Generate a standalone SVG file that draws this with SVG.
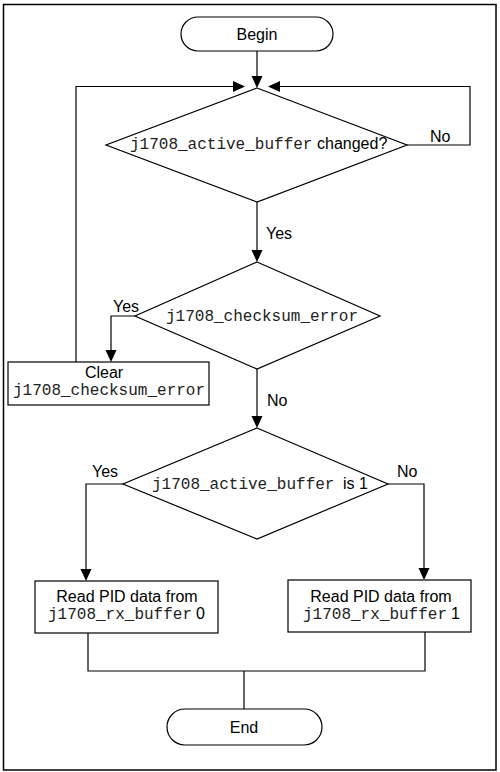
<svg xmlns="http://www.w3.org/2000/svg" width="500" height="772" viewBox="0 0 500 772">
<style>
.s{fill:#fff;stroke:#000;stroke-width:1.2}
.c{fill:none;stroke:#000;stroke-width:1.2}
.t{font-family:"Liberation Sans",Arial,sans-serif;font-size:16px;fill:#000}
.m{font-family:"Liberation Mono","Courier New",monospace;font-size:16px;fill:#222}
.a{fill:#000;stroke:none}
</style>
<rect x="3.5" y="4.5" width="492.5" height="765.5" fill="#fff" stroke="#000" stroke-width="1.5"/>
<g id="connectors">
<path class="c" d="M257,51 V78"/>
<polygon class="a" points="251.5,76 262.5,76 257,88"/>
<path class="c" d="M76,362 V86.5 H235"/>
<polygon class="a" points="233,81 233,92 245,86.5"/>
<path class="c" d="M407,145 H470 V86.5 H278"/>
<polygon class="a" points="280,81 280,92 268,86.5"/>
<path class="c" d="M257,202 V252"/>
<polygon class="a" points="251.5,250 262.5,250 257,262"/>
<path class="c" d="M135,316 H111 V352"/>
<polygon class="a" points="105.5,350 116.5,350 111,362"/>
<path class="c" d="M257,369 V418"/>
<polygon class="a" points="251.5,416 262.5,416 257,428"/>
<path class="c" d="M123,484 H86 V571"/>
<polygon class="a" points="80.5,569 91.5,569 86,581"/>
<path class="c" d="M388,484 H424 V570"/>
<polygon class="a" points="418.5,568 429.5,568 424,580"/>
<path class="c" d="M88,633 V671 H425 V632"/>
<path class="c" d="M244,671 V709"/>
</g>
<g id="labels">
<text class="t" x="430" y="142">No</text>
<text class="t" x="266" y="239">Yes</text>
<text class="t" x="113" y="312">Yes</text>
<text class="t" x="267" y="406">No</text>
<text class="t" x="92" y="477">Yes</text>
<text class="t" x="397" y="477">No</text>
</g>
<g id="begin">
<rect class="s" x="181" y="17" width="152" height="34" rx="17" ry="17"/>
<text class="t" x="257" y="40" text-anchor="middle">Begin</text>
</g>
<g id="d1">
<polygon class="s" points="257,88 407,145 257,202 106,145"/>
<text class="m" x="130" y="149">j1708_active_buffer</text>
<text class="t" x="317" y="149">changed?</text>
</g>
<g id="d2">
<polygon class="s" points="257,262 380,316 257,369 135,316"/>
<text class="m" x="166" y="321">j1708_checksum_error</text>
</g>
<g id="clear">
<rect class="s" x="8" y="362" width="201" height="43"/>
<text class="t" x="104" y="378" text-anchor="middle">Clear</text>
<text class="m" x="13" y="395">j1708_checksum_error</text>
</g>
<g id="d3">
<polygon class="s" points="257,428 388,484 257,539 123,484"/>
<text class="m" x="152" y="489">j1708_active_buffer</text>
<text class="t" x="343" y="489">is 1</text>
</g>
<g id="read0">
<rect class="s" x="35" y="581" width="183" height="52"/>
<text class="t" x="127" y="602" text-anchor="middle">Read PID data from</text>
<text class="m" x="48" y="619">j1708_rx_buffer</text>
<text class="t" x="196" y="619">0</text>
</g>
<g id="read1">
<rect class="s" x="288" y="580" width="183" height="52"/>
<text class="t" x="381" y="602" text-anchor="middle">Read PID data from</text>
<text class="m" x="303" y="619">j1708_rx_buffer</text>
<text class="t" x="451" y="619">1</text>
</g>
<g id="end">
<rect class="s" x="167" y="709" width="155" height="36" rx="18" ry="18"/>
<text class="t" x="244" y="733" text-anchor="middle">End</text>
</g>
</svg>
